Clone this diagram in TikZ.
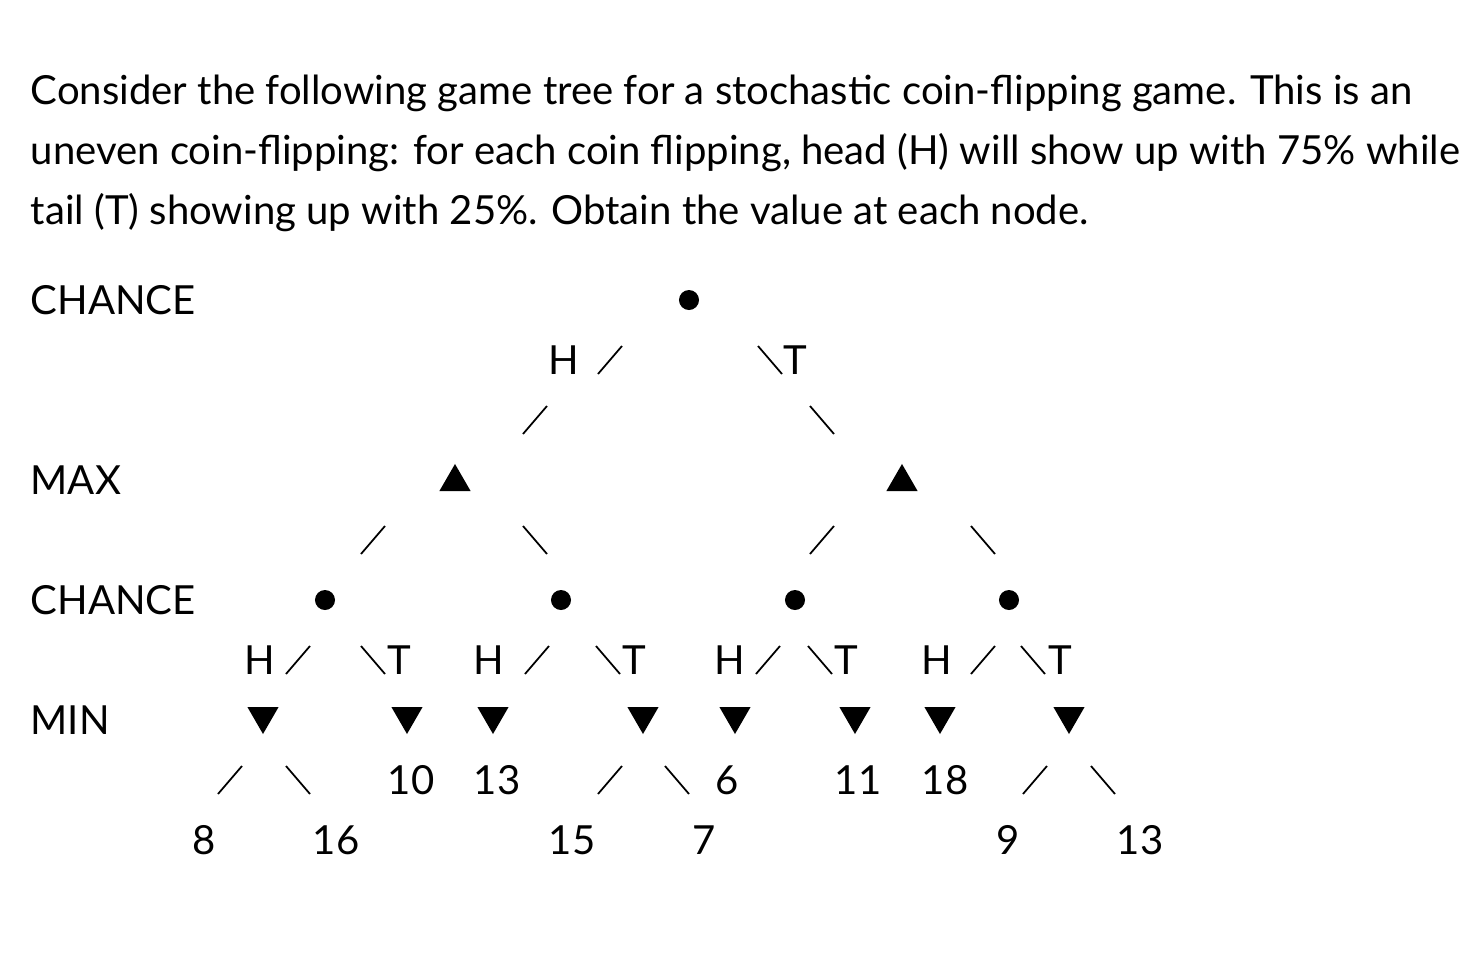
\documentclass[tikz,border=0pt]{standalone}
\usepackage{fontspec}
\setmainfont{Lato}
\usetikzlibrary{shapes.geometric}
\begin{document}
\begin{tikzpicture}[x=0.01cm,y=-0.01cm,
  txt/.style={anchor=base west,inner sep=0,font=\fontsize{11.4}{14}\selectfont},
  lbl/.style={anchor=base,inner sep=0,font=\fontsize{11.4}{14}\selectfont},
  chance/.style={circle,fill=black,inner sep=0,minimum size=0.2cm},
  maxn/.style={regular polygon,regular polygon sides=3,fill=black,inner sep=0,minimum size=0.36cm},
  minn/.style={regular polygon,regular polygon sides=3,shape border rotate=180,fill=black,inner sep=0,minimum size=0.36cm},
  sl/.style={line width=0.5pt}]
\useasboundingbox (0,0) rectangle (1465,963);
\node[txt] (l1) at (30,104) {Consider the following game tree for a stochastic coin-flipping game. This is an};
\node[txt] (l2) at (30,164) {uneven coin-flipping: for each coin flipping, head (H) will show up with 75\% while};
\node[txt] (l3) at (30,224) {tail (T) showing up with 25\%. Obtain the value at each node.};
\node[txt] (r1) at (30,314) {CHANCE};
\node[txt] (r2) at (30,494) {MAX};
\node[txt] (r3) at (30,614) {CHANCE};
\node[txt] (r4) at (30,734) {MIN};
% nodes
\node[chance] (c0) at (689,300) {};
\node[maxn] (m1) at (455,482) {};
\node[maxn] (m2) at (902,482) {};
\foreach \x/\n in {325/c1,561/c2,795/c3,1009/c4} \node[chance] (\n) at (\x,600) {};
\foreach \x/\n in {263/n1,407/n2,493/n3,643/n4,735/n5,855/n6,940/n7,1069/n8} \node[minn] (\n) at (\x,716) {};
% labels H/T
\foreach \x/\y/\t in {564/374/H,795/374/T,260/674/H,399/674/T,489/674/H,634/674/T,730/674/H,846/674/T,937/674/H,1060/674/T}
  \node[lbl] at (\x,\y) {\t};
% numbers
\foreach \x/\y/\t in {411/794/10,497/794/13,727/794/6,858/794/11,945/794/18,204/854/8,336/854/16,572/854/15,704/854/7,1008/854/9,1140/854/13}
  \node[lbl] at (\x,\y) {\t};
% slashes
\foreach \x/\y in {610/360,535/420,373/540,822/540,298/660,537/660,768/660,983/660,230/780,610/780,1035/780}
  \draw[sl] (\x-12,\y+14) -- (\x+12,\y-14);
\foreach \x/\y in {770/360,822/420,535/540,983/540,373/660,608/660,820/660,1033/660,298/780,677/780,1103/780}
  \draw[sl] (\x-12,\y-14) -- (\x+12,\y+14);
\end{tikzpicture}
\end{document}
